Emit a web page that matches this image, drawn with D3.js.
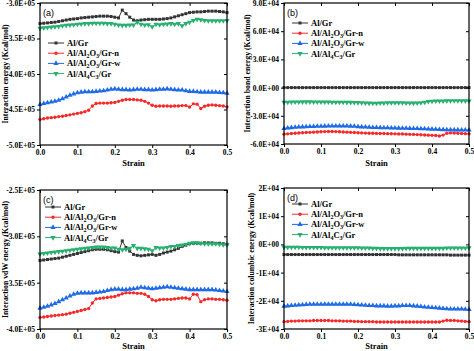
<!DOCTYPE html>
<html><head><meta charset="utf-8">
<script src="https://cdn.jsdelivr.net/npm/d3@7"></script>
<style>
body{margin:0;background:#fff}
svg{display:block}
text{font-family:"Liberation Serif","Times New Roman",serif;font-weight:bold;fill:#000}
text.tag{font-family:"Liberation Sans",Arial,sans-serif;font-weight:normal}
</style>
</head><body><svg id="chart" width="474" height="351"></svg>
<script>
// ---------- DATA ----------
const strain = [0.00,0.01,0.02,0.03,0.04,0.05,0.06,0.07,0.08,0.09,0.10,0.11,0.12,0.13,0.14,0.15,0.16,0.17,0.18,0.19,0.20,0.21,0.22,0.23,0.24,0.25,0.26,0.27,0.28,0.29,0.30,0.31,0.32,0.33,0.34,0.35,0.36,0.37,0.38,0.39,0.40,0.41,0.42,0.43,0.44,0.45,0.46,0.47,0.48,0.49,0.50];
const xTicks = [0.0,0.1,0.2,0.3,0.4,0.5];
const xTickLabels = ["0.0","0.1","0.2","0.3","0.4","0.5"];
const seriesNames = ["Al/Gr","Al/Al2O3/Gr-n","Al/Al2O3/Gr-w","Al/Al4C3/Gr"];

// (a) interaction energy, x1e5 kcal/mol
const totalAlGr = [-3.29,-3.285,-3.28,-3.275,-3.27,-3.26,-3.25,-3.24,-3.23,-3.225,-3.22,-3.21,-3.205,-3.20,-3.195,-3.19,-3.185,-3.185,-3.185,-3.19,-3.20,-3.21,-3.10,-3.15,-3.20,-3.24,-3.25,-3.24,-3.235,-3.23,-3.23,-3.23,-3.23,-3.225,-3.22,-3.21,-3.195,-3.18,-3.165,-3.15,-3.135,-3.13,-3.125,-3.125,-3.12,-3.115,-3.115,-3.115,-3.12,-3.125,-3.135];
const totalAlOn = [-4.64,-4.63,-4.62,-4.615,-4.61,-4.60,-4.595,-4.585,-4.575,-4.565,-4.555,-4.545,-4.53,-4.51,-4.45,-4.415,-4.41,-4.41,-4.41,-4.405,-4.40,-4.385,-4.37,-4.36,-4.36,-4.36,-4.365,-4.37,-4.385,-4.41,-4.44,-4.455,-4.45,-4.45,-4.45,-4.455,-4.45,-4.45,-4.445,-4.445,-4.465,-4.42,-4.425,-4.485,-4.455,-4.44,-4.435,-4.44,-4.445,-4.45,-4.465];
const totalAlOw = [-4.43,-4.415,-4.405,-4.395,-4.385,-4.37,-4.35,-4.325,-4.30,-4.28,-4.265,-4.255,-4.25,-4.25,-4.25,-4.245,-4.24,-4.235,-4.225,-4.215,-4.21,-4.215,-4.22,-4.22,-4.225,-4.22,-4.215,-4.215,-4.22,-4.22,-4.225,-4.22,-4.215,-4.215,-4.21,-4.215,-4.22,-4.225,-4.225,-4.235,-4.245,-4.245,-4.25,-4.255,-4.255,-4.255,-4.255,-4.255,-4.26,-4.265,-4.27];
const totalAlC = [-3.355,-3.35,-3.345,-3.34,-3.335,-3.33,-3.32,-3.315,-3.31,-3.305,-3.30,-3.295,-3.29,-3.29,-3.285,-3.285,-3.285,-3.285,-3.29,-3.29,-3.30,-3.31,-3.315,-3.315,-3.31,-3.31,-3.27,-3.30,-3.31,-3.305,-3.335,-3.30,-3.305,-3.30,-3.295,-3.29,-3.30,-3.29,-3.32,-3.29,-3.27,-3.245,-3.23,-3.235,-3.245,-3.25,-3.25,-3.25,-3.25,-3.25,-3.245];
const totalTicks = [-3.0,-3.5,-4.0,-4.5,-5.0];
const totalTickLabels = ["-3.0E+05","-3.5E+05","-4.0E+05","-4.5E+05","-5.0E+05"];

// (b) interaction bond energy, x1e4 kcal/mol
const bondAlGr = [0,0,0,0,0,0,0,0,0,0,0,0,0,0,0,0,0,0,0,0,0,0,0,0,0,0,0,0,0,0,0,0,0,0,0,0,0,0,0,0,0,0,0,0,0,0,0,0,0,0,0];
const bondAlOn = [-4.95,-4.92,-4.89,-4.86,-4.83,-4.80,-4.78,-4.76,-4.74,-4.72,-4.70,-4.68,-4.67,-4.67,-4.68,-4.70,-4.72,-4.74,-4.76,-4.78,-4.80,-4.82,-4.84,-4.85,-4.86,-4.87,-4.88,-4.89,-4.90,-4.91,-4.92,-4.93,-4.94,-4.95,-4.97,-4.98,-5.00,-5.02,-5.04,-5.06,-5.08,-5.10,-5.15,-5.05,-4.85,-4.82,-4.84,-4.86,-4.88,-4.90,-4.92];
const bondAlOw = [-4.35,-4.30,-4.26,-4.22,-4.20,-4.18,-4.16,-4.14,-4.13,-4.12,-4.11,-4.10,-4.09,-4.08,-4.08,-4.08,-4.08,-4.09,-4.10,-4.12,-4.15,-4.18,-4.20,-4.22,-4.24,-4.25,-4.26,-4.27,-4.28,-4.29,-4.30,-4.31,-4.32,-4.33,-4.34,-4.35,-4.36,-4.37,-4.38,-4.40,-4.42,-4.44,-4.46,-4.47,-4.48,-4.49,-4.50,-4.50,-4.51,-4.52,-4.52];
const bondAlC = [-1.55,-1.55,-1.54,-1.53,-1.53,-1.52,-1.52,-1.52,-1.53,-1.53,-1.53,-1.54,-1.54,-1.55,-1.55,-1.56,-1.56,-1.57,-1.57,-1.58,-1.60,-1.62,-1.63,-1.65,-1.67,-1.66,-1.64,-1.63,-1.62,-1.62,-1.62,-1.62,-1.62,-1.63,-1.64,-1.65,-1.64,-1.62,-1.55,-1.48,-1.45,-1.43,-1.42,-1.42,-1.41,-1.40,-1.40,-1.40,-1.40,-1.41,-1.42];
const bondTicks = [9,6,3,0,-3,-6];
const bondTickLabels = ["9.0E+04","6.0E+04","3.0E+04","0.0E+00","-3.0E+04","-6.0E+04"];

// (c) interaction vdW energy, x1e5 kcal/mol
const vdwAlGr = [-3.26,-3.255,-3.25,-3.245,-3.24,-3.235,-3.225,-3.215,-3.205,-3.195,-3.185,-3.175,-3.165,-3.155,-3.145,-3.14,-3.14,-3.14,-3.145,-3.155,-3.165,-3.17,-3.05,-3.12,-3.16,-3.195,-3.205,-3.21,-3.205,-3.20,-3.195,-3.205,-3.195,-3.18,-3.17,-3.16,-3.145,-3.13,-3.11,-3.095,-3.08,-3.075,-3.075,-3.075,-3.07,-3.07,-3.07,-3.075,-3.075,-3.08,-3.085];
const vdwAlOn = [-3.875,-3.87,-3.865,-3.86,-3.855,-3.85,-3.845,-3.84,-3.83,-3.82,-3.81,-3.80,-3.79,-3.78,-3.72,-3.675,-3.67,-3.665,-3.66,-3.655,-3.65,-3.635,-3.62,-3.61,-3.61,-3.61,-3.615,-3.615,-3.625,-3.65,-3.685,-3.695,-3.685,-3.68,-3.68,-3.68,-3.675,-3.67,-3.665,-3.665,-3.675,-3.625,-3.63,-3.705,-3.685,-3.675,-3.675,-3.68,-3.68,-3.685,-3.69];
const vdwAlOw = [-3.775,-3.765,-3.755,-3.74,-3.725,-3.705,-3.685,-3.665,-3.645,-3.625,-3.615,-3.61,-3.61,-3.61,-3.61,-3.605,-3.60,-3.595,-3.585,-3.575,-3.57,-3.57,-3.575,-3.575,-3.57,-3.565,-3.56,-3.55,-3.555,-3.56,-3.565,-3.56,-3.555,-3.55,-3.545,-3.55,-3.555,-3.56,-3.565,-3.57,-3.575,-3.575,-3.575,-3.575,-3.575,-3.575,-3.575,-3.58,-3.585,-3.59,-3.595];
const vdwAlC = [-3.19,-3.185,-3.18,-3.175,-3.17,-3.165,-3.16,-3.155,-3.15,-3.145,-3.14,-3.135,-3.13,-3.125,-3.12,-3.115,-3.115,-3.115,-3.12,-3.125,-3.125,-3.14,-3.145,-3.14,-3.13,-3.10,-3.13,-3.13,-3.135,-3.14,-3.155,-3.12,-3.125,-3.125,-3.12,-3.11,-3.11,-3.10,-3.095,-3.085,-3.075,-3.07,-3.07,-3.075,-3.08,-3.08,-3.08,-3.08,-3.085,-3.09,-3.09];
const vdwTicks = [-2.5,-3.0,-3.5,-4.0];
const vdwTickLabels = ["-2.5E+05","-3.0E+05","-3.5E+05","-4.0E+05"];

// (d) interaction columbic energy, x1e4 kcal/mol
const coulAlGr = [-0.36,-0.36,-0.36,-0.36,-0.36,-0.36,-0.36,-0.36,-0.36,-0.36,-0.36,-0.36,-0.36,-0.36,-0.36,-0.36,-0.36,-0.36,-0.36,-0.36,-0.36,-0.36,-0.36,-0.36,-0.36,-0.36,-0.36,-0.36,-0.36,-0.36,-0.36,-0.37,-0.37,-0.37,-0.37,-0.37,-0.37,-0.37,-0.37,-0.37,-0.37,-0.37,-0.37,-0.37,-0.37,-0.38,-0.38,-0.38,-0.38,-0.38,-0.38];
const coulAlOn = [-2.74,-2.73,-2.72,-2.72,-2.71,-2.71,-2.71,-2.71,-2.70,-2.70,-2.70,-2.70,-2.70,-2.71,-2.71,-2.71,-2.72,-2.72,-2.72,-2.73,-2.73,-2.74,-2.74,-2.74,-2.74,-2.75,-2.75,-2.75,-2.75,-2.75,-2.75,-2.75,-2.75,-2.75,-2.75,-2.75,-2.75,-2.75,-2.75,-2.75,-2.75,-2.75,-2.75,-2.72,-2.69,-2.70,-2.70,-2.71,-2.72,-2.73,-2.74];
const coulAlOw = [-2.19,-2.18,-2.17,-2.16,-2.15,-2.14,-2.13,-2.12,-2.12,-2.12,-2.12,-2.12,-2.12,-2.12,-2.12,-2.12,-2.12,-2.12,-2.12,-2.13,-2.14,-2.15,-2.16,-2.17,-2.17,-2.18,-2.18,-2.18,-2.19,-2.19,-2.18,-2.18,-2.17,-2.17,-2.17,-2.18,-2.19,-2.20,-2.22,-2.23,-2.24,-2.25,-2.26,-2.27,-2.28,-2.29,-2.29,-2.29,-2.29,-2.30,-2.31];
const coulAlC = [-0.10,-0.10,-0.10,-0.10,-0.10,-0.11,-0.11,-0.11,-0.11,-0.11,-0.11,-0.12,-0.12,-0.12,-0.12,-0.12,-0.12,-0.12,-0.12,-0.12,-0.12,-0.13,-0.13,-0.13,-0.14,-0.14,-0.15,-0.15,-0.15,-0.15,-0.15,-0.15,-0.15,-0.14,-0.14,-0.14,-0.14,-0.14,-0.14,-0.14,-0.14,-0.14,-0.14,-0.14,-0.13,-0.13,-0.13,-0.13,-0.13,-0.13,-0.12];
const coulTicks = [2,1,0,-1,-2,-3];
const coulTickLabels = ["2E+04","1E+04","0E+00","-1E+04","-2E+04","-3E+04"];

// ---------- STYLE ----------
const colors = ["#333333","#f42a2a","#1f6be6","#27b070"];
const symbols = [
  {t:d3.symbolSquare, s:9, r:0},
  {t:d3.symbolCircle, s:9, r:0},
  {t:d3.symbolTriangle, s:12, r:0},
  {t:d3.symbolTriangle, s:12, r:180}
];

const panels = [
  {tag:"(a)", title:"Interaction energy (Kcal/mol)", series:[totalAlGr,totalAlOn,totalAlOw,totalAlC],
   ticks:totalTicks, labels:totalTickLabels, dom:[-5.0,-3.0],
   L:40, T:3, W:187, H:142, titleX:5, leg:[8,40], xlab:166},
  {tag:"(b)", title:"Interaction bond energy (Kcal/mol)", series:[bondAlGr,bondAlOn,bondAlOw,bondAlC],
   ticks:bondTicks, labels:bondTickLabels, dom:[-6,9],
   L:284, T:3, W:185, H:141, titleX:247, leg:[8,20], xlab:166},
  {tag:"(c)", title:"Interaction vdW energy (Kcal/mol)", series:[vdwAlGr,vdwAlOn,vdwAlOw,vdwAlC],
   ticks:vdwTicks, labels:vdwTickLabels, dom:[-4.0,-2.5],
   L:40, T:190, W:187, H:139, titleX:5, leg:[5,17], xlab:348.5},
  {tag:"(d)", title:"Interaction columbic energy (Kcal/mol)", series:[coulAlGr,coulAlOn,coulAlOw,coulAlC],
   ticks:coulTicks, labels:coulTickLabels, dom:[-3,2],
   L:284, T:188, W:185, H:141, titleX:251, leg:[8,16], xlab:348.5}
];

const svg = d3.select("#chart");
svg.append("rect").attr("width",474).attr("height",351).attr("fill","#fff");

function legendText(sel, name){
  const parts = name.match(/[A-Za-z\/\-]+|\d/g);
  let sub = false;
  parts.forEach(p=>{
    const t = sel.append("tspan").text(p);
    if(/^\d$/.test(p)){ t.attr("font-size","6px").attr("dy","2"); sub = true; }
    else { t.attr("dy", sub ? "-2" : "0"); sub = false; }
  });
}

panels.forEach(p=>{
  const x = d3.scaleLinear().domain([0,0.5]).range([p.L, p.L+p.W]);
  const y = d3.scaleLinear().domain(p.dom).range([p.T+p.H, p.T]);
  const g = svg.append("g");

  p.series.forEach((vals,si)=>{
    const pts = strain.map((s,i)=>[s, vals[i]]);
    g.append("path").datum(pts)
      .attr("fill","none").attr("stroke",colors[si]).attr("stroke-width",1)
      .attr("d", d3.line().x(d=>x(d[0])).y(d=>y(d[1])));
    const sym = d3.symbol().type(symbols[si].t).size(symbols[si].s);
    g.selectAll(null).data(pts).enter().append("path")
      .attr("d", sym)
      .attr("fill", colors[si])
      .attr("transform", d=>`translate(${x(d[0])},${y(d[1])}) rotate(${symbols[si].r})`);
  });

  const axL = d3.axisLeft(y).tickValues(p.ticks).tickFormat((d,i)=>p.labels[i]).tickSize(3).tickSizeOuter(0).tickPadding(2);
  const axR = d3.axisRight(y).tickValues(p.ticks).tickFormat("").tickSize(-3).tickSizeOuter(0);
  const axB = d3.axisBottom(x).tickValues(xTicks).tickFormat((d,i)=>xTickLabels[i]).tickSize(3).tickSizeOuter(0).tickPadding(1.5);
  const axT = d3.axisTop(x).tickValues(xTicks).tickFormat("").tickSize(-3).tickSizeOuter(0);
  const gl = g.append("g").attr("transform",`translate(${p.L},0)`).call(axL);
  g.append("g").attr("transform",`translate(${p.L+p.W},0)`).call(axR);
  const gb = g.append("g").attr("transform",`translate(0,${p.T+p.H})`).call(axB);
  g.append("g").attr("transform",`translate(0,${p.T})`).call(axT);
  g.selectAll(".domain").remove();
  g.selectAll(".tick line").attr("stroke","#000").attr("stroke-width",1);
  gl.selectAll("text").attr("font-size","7.5px").attr("font-family","Liberation Serif, serif").attr("font-weight","bold");
  gb.selectAll("text").attr("font-size","7.5px").attr("font-family","Liberation Serif, serif").attr("font-weight","bold");
  g.append("rect").attr("x",p.L).attr("y",p.T).attr("width",p.W).attr("height",p.H)
    .attr("fill","none").attr("stroke","#000").attr("stroke-width",1.2);

  g.append("text").attr("transform",`translate(${p.titleX+3},${p.T+p.H/2}) rotate(-90)`)
    .attr("text-anchor","middle").attr("font-size","7.8px").text(p.title);
  g.append("text").attr("x",p.L+p.W/2).attr("y",p.xlab).attr("text-anchor","middle")
    .attr("font-size","8.5px").text("Strain");

  g.append("text").attr("class","tag").attr("x",p.L+3).attr("y",p.T+13).attr("font-size","9px").text(p.tag);

  seriesNames.forEach((n,si)=>{
    const lx = p.L+p.leg[0], ly = p.T+p.leg[1]+si*10.2;
    g.append("line").attr("x1",lx).attr("x2",lx+16).attr("y1",ly).attr("y2",ly)
      .attr("stroke",colors[si]).attr("stroke-width",1);
    g.append("path").attr("d", d3.symbol().type(symbols[si].t).size(symbols[si].s)())
      .attr("fill",colors[si]).attr("transform",`translate(${lx+8},${ly}) rotate(${symbols[si].r})`);
    const t = g.append("text").attr("x",lx+19).attr("y",ly+3).attr("font-size","8.5px");
    legendText(t, n);
  });
});
</script>
</body></html>
